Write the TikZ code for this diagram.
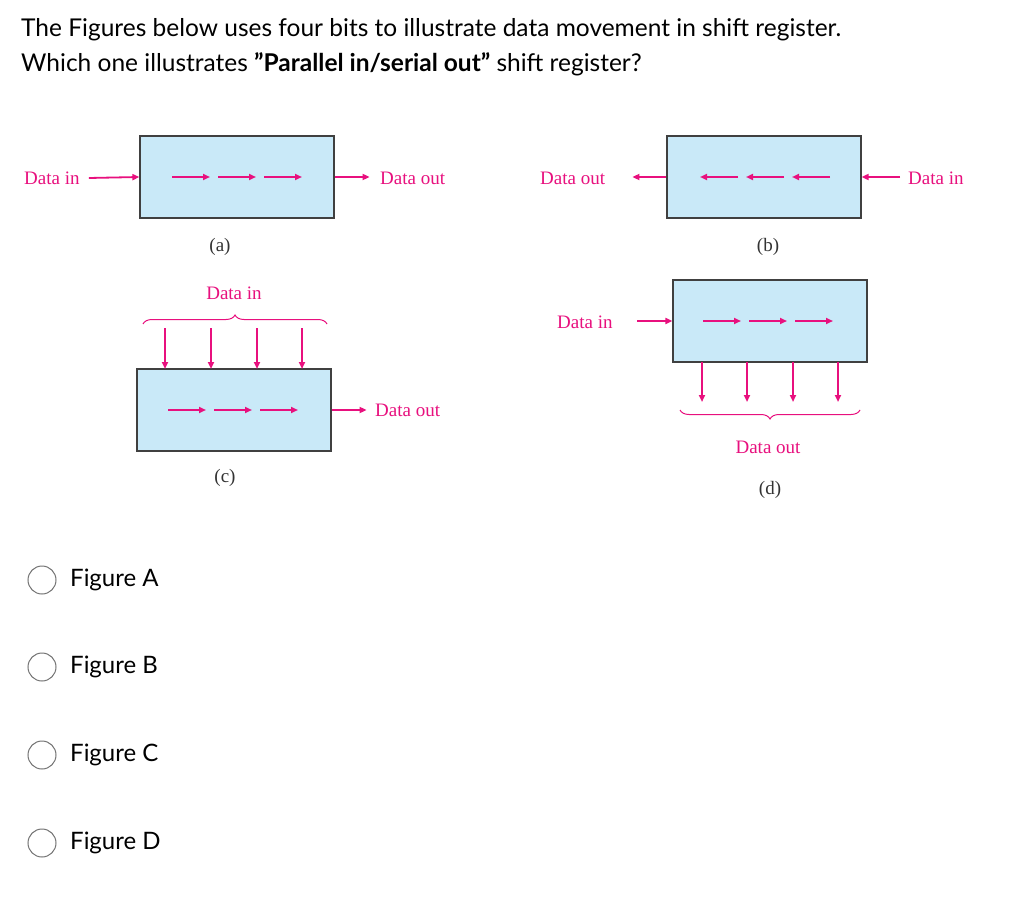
\documentclass[tikz,border=0pt]{standalone}
\usepackage{fontspec}
\setmainfont{Lato}
\newfontfamily\serifA{Liberation Serif}
\usetikzlibrary{arrows.meta,decorations.pathreplacing}
\definecolor{pk}{HTML}{E8107E}
\definecolor{bx}{HTML}{C9E9F8}
\begin{document}
\begin{tikzpicture}[x=1pt,y=-1pt,
  reg/.style={draw=black!75,fill=bx,line width=1.2pt,minimum width=194pt,minimum height=82pt,inner sep=0pt},
  lab/.style={text=pk,font=\serifA\fontsize{19}{19}\selectfont,inner sep=0pt},
  figcap/.style={text=black!80,font=\serifA\fontsize{19}{19}\selectfont,inner sep=0pt},
  pa/.style={draw=pk,line width=1.8pt,-{Triangle[length=7pt,width=6pt]}},
  br/.style={draw=pk,line width=1pt,decorate,decoration={brace,amplitude=9pt}},
  opt/.style={font=\fontsize{24}{24}\selectfont,anchor=west,inner sep=0pt},
  rad/.style={draw=black!55,line width=1pt,circle,minimum size=28pt,inner sep=0pt}]
\useasboundingbox[fill=white] (0,0) rectangle (1024,901);
\node[anchor=west,inner sep=0pt,font=\fontsize{24.5}{24.5}\selectfont] (t1) at (21,30) {The Figures below uses four bits to illustrate data movement in shift register.};
\node[anchor=west,inner sep=0pt,font=\fontsize{24.5}{24.5}\selectfont] (t2) at (21,64) {Which one illustrates \textbf{"Parallel in/serial out"} shift register?};
% (a)
\node[reg] (A) at (237,177) {};
\node[lab,anchor=west] (Ain) at (24,178) {Data in};
\node[lab,anchor=west] (Aout) at (380,178) {Data out};
\draw[pa] (Ain.east) ++(9,0) coordinate (a0) -- (A.west);
\draw[pa] (A.east) -- ++(35,0) coordinate (a1);
\foreach \x in {172,218,264} \draw[pa] (\x,177) -- ++(38,0);
\node[figcap] (Acap) at (220,247) {(a)};
% (b)
\node[reg] (B) at (764,177) {};
\node[lab,anchor=west] (Bout) at (540,178) {Data out};
\node[lab,anchor=west] (Bin) at (908,178) {Data in};
\draw[pa] (B.west) -- ++(-34,0) coordinate (b0);
\draw[pa] (900,177) coordinate (b1) -- (B.east);
\foreach \x in {830,784,738} \draw[pa] (\x,177) -- ++(-38,0);
\node[figcap] (Bcap) at (768,247) {(b)};
% (c)
\node[reg] (C) at (234,410) {};
\node[lab] (Cin) at (234,293) {Data in};
\draw[br] (143,324) -- (327,324);
\foreach \x in {165,211,257,302} \draw[pa] (\x,328) -- (\x,369);
\foreach \x in {168,214,260} \draw[pa] (\x,410) -- ++(38,0);
\draw[pa] (C.east) -- ++(35,0) coordinate (c1);
\node[lab,anchor=west] (Cout) at (375,410) {Data out};
\node[figcap] (Ccap) at (225,478) {(c)};
% (d)
\node[reg] (D) at (770,321) {};
\node[lab,anchor=west] (Din) at (557,322) {Data in};
\draw[pa] (637,321) coordinate (d0) -- (D.west);
\foreach \x in {703,749,795} \draw[pa] (\x,321) -- ++(38,0);
\foreach \x in {702,747,793,838} \draw[pa] (\x,362) -- (\x,402);
\draw[br] (860,410) -- (680,410);
\node[lab] (Dout) at (768,447) {Data out};
\node[figcap] (Dcap) at (770,490) {(d)};
% options
\foreach \y/\t/\n in {580/A/oa,667/B/ob,755/C/oc,843/D/od}{
  \node[rad] (r\n) at (42,\y) {};
  \node[opt] (\n) at (70,\y) {Figure \t};
}
\end{tikzpicture}
\end{document}
